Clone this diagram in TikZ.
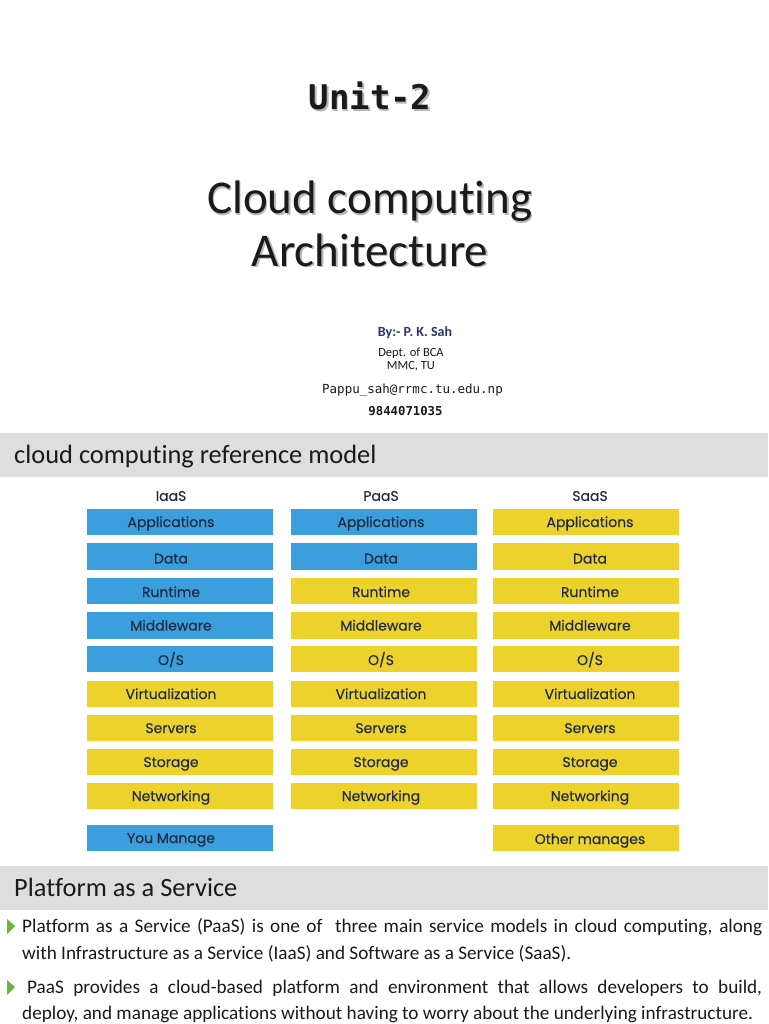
\documentclass[tikz,border=0pt]{standalone}
\usepackage{fontspec}
\setmainfont[RawFeature={-liga}]{Carlito}
\newfontfamily\boxfont[FakeBold=0.25]{Poppins}
\newfontfamily\monofont{DejaVu Sans Mono}
\definecolor{bandgray}{HTML}{DEDEDE}
\definecolor{cellblue}{HTML}{3A9FDC}
\definecolor{cellyellow}{HTML}{EDD22B}
\definecolor{inktext}{HTML}{1A1A1A}
\definecolor{boxink}{HTML}{1F2A44}
\definecolor{navyink}{HTML}{25376B}
\definecolor{bulletgreen}{HTML}{6FB53C}
\newcommand{\shadowed}[2]{\leavevmode\rlap{\kern#1\raisebox{-#1}{\textcolor{black!28}{#2}}}#2}
\newcommand{\fs}[1]{\fontsize{#1}{#1}\selectfont}
\newcommand{\just}[2]{\makebox[#1][s]{#2}}
\newcommand{\offs}[2]{\makebox[186pt]{\kern#1 #2}}
\tikzset{
 x=1pt,y=-1pt,
 band/.style={fill=bandgray,draw=none},
 cell/.style={minimum width=186pt,minimum height=26.5pt,inner sep=0pt,text height=11pt,text depth=1pt,font=\boxfont\fs{14},text=boxink},
 bluecell/.style={cell,fill=cellblue},
 yellowcell/.style={cell,fill=cellyellow},
 head/.style={inner sep=0pt,font=\boxfont\fs{14},text=boxink},
 bandtitle/.style={anchor=west,inner sep=0pt,font=\fs{26.4},text=inktext},
 body/.style={anchor=north west,inner sep=0pt,align=left,font=\fs{19.2},text=inktext},
 bullet/.style={fill=bulletgreen,draw=none},
 txt/.style={inner sep=0pt,text=inktext}
}
\begin{document}
\begin{tikzpicture}
\useasboundingbox (0,0) rectangle (768,1024);
\fill[white] (0,0) rectangle (768,1024);
\node[txt,font=\monofont\bfseries\fs{34}] (unit) at (370,97) {\shadowed{1.5pt}{Unit-2}};
\node[txt,font=\fs{47}] (t1) at (370,202) {\shadowed{1.5pt}{Cloud computing}};
\node[txt,font=\fs{47}] (t2) at (370,251) {\shadowed{1.5pt}{Architecture}};
\node[txt,font=\bfseries\fs{14},text=navyink] (by) at (415,333) {By:- P. K. Sah};
\node[txt,font=\fs{12.5}] (d1) at (411,353) {Dept. of BCA};
\node[txt,font=\fs{12.5}] (d2) at (411,366) {MMC, TU};
\node[txt,font=\monofont\fs{12.5}] (mail) at (412.5,390) {Pappu\_sah@rrmc.tu.edu.np};
\node[txt,font=\monofont\bfseries\fs{12.3}] (ph) at (405.5,411) {9844071035};
\fill[band] (0,433) rectangle (768,477);
\node[bandtitle] (b1) at (14,457) {cloud computing reference model};
\node[head] (hi) at (171,496) {IaaS};
\node[head] (hp) at (381,496) {PaaS};
\node[head] (hs) at (590,496) {SaaS};
\foreach \lab/\yy/\ca/\cb/\cc in {{Applications}/522/bluecell/bluecell/yellowcell,
 {\raisebox{-2pt}{Data}}/556.5/bluecell/bluecell/yellowcell,
 {\raisebox{-1pt}{Runtime}}/591/bluecell/yellowcell/yellowcell,
 {Middleware}/625.5/bluecell/yellowcell/yellowcell,
 {\raisebox{-1pt}{O{/}S}}/659/bluecell/yellowcell/yellowcell,
 {Virtualization}/694/yellowcell/yellowcell/yellowcell,
 {Servers}/728/yellowcell/yellowcell/yellowcell,
 {Storage}/762/yellowcell/yellowcell/yellowcell,
 {Networking}/796/yellowcell/yellowcell/yellowcell}{
 \node[\ca] at (180,\yy) {\offs{-18pt}{\lab}};
 \node[\cb] at (384,\yy) {\offs{-6pt}{\lab}};
 \node[\cc] at (586,\yy) {\offs{8pt}{\lab}};
}
\node[bluecell] (ym) at (180,838) {\offs{-18pt}{You Manage}};
\node[yellowcell] (om) at (586,838) {\offs{8pt}{\raisebox{-1pt}{Other manages}}};
\fill[band] (0,866) rectangle (768,910);
\node[bandtitle] (b2) at (14,887.5) {Platform as a Service};
\path[bullet] (7,919) -- (15,926) -- (7,934) -- cycle;
\path[bullet] (7,980) -- (15,987) -- (7,995) -- cycle;
\node[body] (p1) at (22,918) {\just{740pt}{Platform as a Service (PaaS) is one of\ \ three main service models in cloud computing, along}\\[7.8pt]with Infrastructure as a Service (IaaS) and Software as a Service (SaaS).};
\node[body] (p2) at (27,979.5) {\just{735pt}{PaaS provides a cloud-based platform and environment that allows developers to build,}};
\node[body] (p3) at (22,1005.5) {deploy, and manage applications without having to worry about the underlying infrastructure.};
\end{tikzpicture}
\end{document}
